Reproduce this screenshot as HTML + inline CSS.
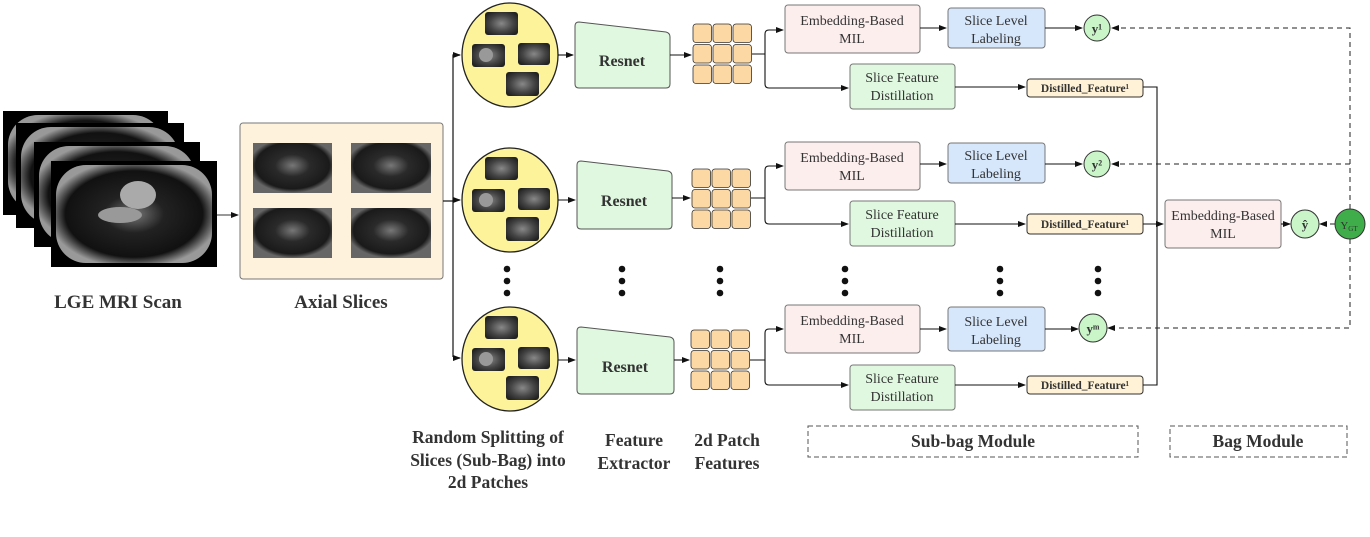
<!DOCTYPE html>
<html><head><meta charset="utf-8"><style>
body{margin:0;background:#fff;}
svg{display:block;}
text{font-family:"Liberation Serif",serif;fill:#333;}
.b{font-weight:bold;}
</style></head><body>
<svg width="1370" height="537" viewBox="0 0 1370 537" xmlns="http://www.w3.org/2000/svg">
<defs>
<marker id="a" markerWidth="8" markerHeight="8" refX="7" refY="4" orient="auto" markerUnits="userSpaceOnUse"><path d="M0,1 L8,4 L0,7 z" fill="#111"/></marker>
<radialGradient id="mri" cx="50%" cy="50%" r="55%"><stop offset="0" stop-color="#777"/><stop offset="0.35" stop-color="#222"/><stop offset="0.8" stop-color="#111"/><stop offset="1" stop-color="#999"/></radialGradient>
<radialGradient id="sl" cx="50%" cy="45%" r="55%"><stop offset="0" stop-color="#777"/><stop offset="0.4" stop-color="#2a2a2a"/><stop offset="0.85" stop-color="#1a1a1a"/><stop offset="1" stop-color="#666"/></radialGradient>
<radialGradient id="pt" cx="50%" cy="50%" r="60%"><stop offset="0" stop-color="#888"/><stop offset="0.6" stop-color="#444"/><stop offset="1" stop-color="#222"/></radialGradient>
<g id="circ">
<ellipse cx="0" cy="0" rx="48" ry="52" fill="#fdf39b" stroke="#222" stroke-width="1.3"/>
<rect x="-25" y="-43" width="33" height="23" rx="3" fill="url(#pt)"/>
<rect x="-38" y="-11" width="33" height="23" rx="3" fill="url(#pt)"/>
<rect x="8" y="-12" width="32" height="22" rx="3" fill="url(#pt)"/>
<rect x="-4" y="17" width="33" height="24" rx="3" fill="url(#pt)"/>
<circle cx="-24" cy="0" r="7" fill="#999"/>
</g>
<g id="grid" fill="#fcd9a4" stroke="#333" stroke-width="0.8">
<rect x="0" y="0" width="18.5" height="18.5" rx="3"/><rect x="20" y="0" width="18.5" height="18.5" rx="3"/><rect x="40" y="0" width="18.5" height="18.5" rx="3"/>
<rect x="0" y="20.5" width="18.5" height="18.5" rx="3"/><rect x="20" y="20.5" width="18.5" height="18.5" rx="3"/><rect x="40" y="20.5" width="18.5" height="18.5" rx="3"/>
<rect x="0" y="41" width="18.5" height="18.5" rx="3"/><rect x="20" y="41" width="18.5" height="18.5" rx="3"/><rect x="40" y="41" width="18.5" height="18.5" rx="3"/>
</g>
</defs>

<rect x="3" y="111" width="165" height="104" fill="#000"/><rect x="8" y="115" width="155" height="96" rx="30" fill="url(#mri)"/>
<rect x="16" y="123" width="168" height="105" fill="#000"/><rect x="21" y="127" width="158" height="97" rx="30" fill="url(#mri)"/>
<rect x="34" y="142" width="166" height="105" fill="#000"/><rect x="39" y="146" width="156" height="97" rx="30" fill="url(#mri)"/>
<rect x="51" y="161" width="166" height="106" fill="#000"/><rect x="56" y="165" width="156" height="98" rx="30" fill="url(#mri)"/>
<ellipse cx="138" cy="195" rx="18" ry="14" fill="#aaa"/><ellipse cx="120" cy="215" rx="22" ry="8" fill="#999"/>
<line x1="217" y1="215" x2="238" y2="215" stroke="#333" marker-end="url(#a)"/>

<rect x="240" y="123" width="203" height="156" rx="3" fill="#fff2dc" stroke="#777"/>
<rect x="253" y="143" width="79" height="50" fill="url(#sl)"/>
<rect x="351" y="143" width="80" height="50" fill="url(#sl)"/>
<rect x="253" y="208" width="79" height="50" fill="url(#sl)"/>
<rect x="351" y="208" width="80" height="50" fill="url(#sl)"/>
<text x="118" y="308" font-size="19" text-anchor="middle" class="b">LGE MRI Scan</text>
<text x="341" y="308" font-size="19" text-anchor="middle" class="b">Axial Slices</text>

<g fill="none" stroke="#111" stroke-width="1.2">
<line x1="443" y1="201" x2="453" y2="201"/>
<path d="M453,357 L453,55 L460,55" marker-end="url(#a)"/>
<line x1="453" y1="200" x2="460" y2="200" marker-end="url(#a)"/>
<line x1="453" y1="358" x2="460" y2="358" marker-end="url(#a)"/>
</g>

<g>
<use href="#circ" x="510" y="55"/>
<use href="#circ" x="510" y="200"/>
<use href="#circ" x="510" y="359"/>
</g>
<g fill="#e0f8e0" stroke="#555" stroke-width="1">
<path d="M575,26 Q575,22 579,22 L666,32 Q670,33 670,37 L670,84 Q670,88 666,88 L579,88 Q575,88 575,84 Z"/>
<path d="M577,165 Q577,161 581,161 L668,171 Q672,172 672,176 L672,225 Q672,229 668,229 L581,229 Q577,229 577,225 Z"/>
<path d="M577,331 Q577,327 581,327 L670,337 Q674,338 674,342 L674,390 Q674,394 670,394 L581,394 Q577,394 577,390 Z"/>
</g>
<text x="622" y="66" font-size="16" text-anchor="middle" class="b">Resnet</text>
<text x="624" y="206" font-size="16" text-anchor="middle" class="b">Resnet</text>
<text x="625" y="372" font-size="16" text-anchor="middle" class="b">Resnet</text>
<use href="#grid" x="693" y="24"/>
<use href="#grid" x="692" y="169"/>
<use href="#grid" x="691" y="330"/>

<g fill="none" stroke="#111" stroke-width="1.1">
<line x1="558" y1="55" x2="573" y2="55" marker-end="url(#a)"/>
<line x1="670" y1="55" x2="691" y2="55" marker-end="url(#a)"/>
<path d="M752,54 L765,54 M765,54 L765,34 Q765,30 769,30 L783,30" marker-end="url(#a)"/>
<path d="M765,54 L765,84 Q765,88 769,88 L848,88" marker-end="url(#a)"/>
<line x1="558" y1="200" x2="575" y2="200" marker-end="url(#a)"/>
<line x1="672" y1="198" x2="690" y2="198" marker-end="url(#a)"/>
<path d="M751,198 L765,198 L765,170 Q765,166 769,166 L783,166" marker-end="url(#a)"/>
<path d="M765,198 L765,220 Q765,224 769,224 L848,224" marker-end="url(#a)"/>
<line x1="558" y1="360" x2="575" y2="360" marker-end="url(#a)"/>
<line x1="674" y1="360" x2="689" y2="360" marker-end="url(#a)"/>
<path d="M750,360 L765,360 L765,333 Q765,329 769,329 L783,329" marker-end="url(#a)"/>
<path d="M765,360 L765,381 Q765,385 769,385 L848,385" marker-end="url(#a)"/>
</g>

<g stroke="#777" stroke-width="1">
<rect x="785" y="5" width="135" height="48" rx="3" fill="#fdeeee"/>
<rect x="785" y="142" width="135" height="48" rx="3" fill="#fdeeee"/>
<rect x="785" y="305" width="135" height="48" rx="3" fill="#fdeeee"/>
<rect x="948" y="8" width="97" height="40" rx="3" fill="#d6e6fb"/>
<rect x="948" y="143" width="97" height="40" rx="3" fill="#d6e6fb"/>
<rect x="948" y="307" width="97" height="44" rx="3" fill="#d6e6fb"/>
<rect x="850" y="64" width="105" height="45" rx="3" fill="#e0f8e0"/>
<rect x="850" y="201" width="105" height="45" rx="3" fill="#e0f8e0"/>
<rect x="850" y="365" width="105" height="45" rx="3" fill="#e0f8e0"/>
<rect x="1027" y="79" width="116" height="18" rx="3" fill="#fff2d6" stroke="#333"/>
<rect x="1027" y="214" width="116" height="20" rx="3" fill="#fff2d6" stroke="#333"/>
<rect x="1027" y="376" width="116" height="18" rx="3" fill="#fff2d6" stroke="#333"/>
<rect x="1165" y="200" width="116" height="48" rx="3" fill="#fdeeee"/>
</g>
<g font-size="14" text-anchor="middle">
<text x="852" y="25">Embedding-Based</text><text x="852" y="43">MIL</text>
<text x="852" y="162">Embedding-Based</text><text x="852" y="180">MIL</text>
<text x="852" y="325">Embedding-Based</text><text x="852" y="343">MIL</text>
<text x="996" y="25">Slice Level</text><text x="996" y="43">Labeling</text>
<text x="996" y="160">Slice Level</text><text x="996" y="178">Labeling</text>
<text x="996" y="326">Slice Level</text><text x="996" y="344">Labeling</text>
<text x="902" y="82">Slice Feature</text><text x="902" y="100">Distillation</text>
<text x="902" y="219">Slice Feature</text><text x="902" y="237">Distillation</text>
<text x="902" y="383">Slice Feature</text><text x="902" y="401">Distillation</text>
<text x="1223" y="220">Embedding-Based</text><text x="1223" y="238">MIL</text>
</g>
<g font-size="11.5" text-anchor="middle" class="b">
<text x="1085" y="92">Distilled_Feature¹</text>
<text x="1085" y="228">Distilled_Feature¹</text>
<text x="1085" y="389">Distilled_Feature¹</text>
</g>

<g fill="none" stroke="#111" stroke-width="1.1">
<line x1="920" y1="28" x2="946" y2="28" marker-end="url(#a)"/>
<line x1="920" y1="164" x2="946" y2="164" marker-end="url(#a)"/>
<line x1="920" y1="329" x2="946" y2="329" marker-end="url(#a)"/>
<line x1="1045" y1="28" x2="1082" y2="28" marker-end="url(#a)"/>
<line x1="1045" y1="164" x2="1082" y2="164" marker-end="url(#a)"/>
<line x1="1045" y1="329" x2="1078" y2="329" marker-end="url(#a)"/>
<line x1="955" y1="87" x2="1025" y2="87" marker-end="url(#a)"/>
<line x1="955" y1="224" x2="1025" y2="224" marker-end="url(#a)"/>
<line x1="955" y1="385" x2="1025" y2="385" marker-end="url(#a)"/>
<path d="M1143,87 L1157,87 L1157,385 L1143,385"/>
<line x1="1143" y1="224" x2="1163" y2="224" marker-end="url(#a)"/>
<line x1="1281" y1="224" x2="1290" y2="224" marker-end="url(#a)"/>
</g>
<g fill="none" stroke="#222" stroke-width="1" stroke-dasharray="5,4">
<path d="M1350,209 L1350,28 L1112,28" marker-end="url(#a)"/>
<path d="M1350,164 L1112,164" marker-end="url(#a)"/>
<path d="M1350,239 L1350,328 L1108,328" marker-end="url(#a)"/>
<line x1="1335" y1="224" x2="1320" y2="224" marker-end="url(#a)"/>
</g>

<g stroke="#333" stroke-width="1" fill="#c9f5c9">
<circle cx="1097" cy="28" r="13"/>
<circle cx="1097" cy="164" r="13"/>
<circle cx="1093" cy="328" r="14"/>
<circle cx="1305" cy="224" r="14"/>
<circle cx="1350" cy="224" r="15" fill="#3fae4a"/>
</g>
<g font-size="13" text-anchor="middle" class="b">
<text x="1097" y="33">y¹</text>
<text x="1097" y="169">y²</text>
<text x="1093" y="333">yᵐ</text>
<text x="1305" y="229">ŷ</text>
</g>
<text x="1349" y="229" font-size="11" text-anchor="middle">Y<tspan font-size="7" dy="2">GT</tspan></text>

<g fill="#111">
<circle cx="507" cy="269" r="3.3"/><circle cx="507" cy="281" r="3.3"/><circle cx="507" cy="293" r="3.3"/>
<circle cx="622" cy="269" r="3.3"/><circle cx="622" cy="281" r="3.3"/><circle cx="622" cy="293" r="3.3"/>
<circle cx="720" cy="269" r="3.3"/><circle cx="720" cy="281" r="3.3"/><circle cx="720" cy="293" r="3.3"/>
<circle cx="845" cy="269" r="3.3"/><circle cx="845" cy="281" r="3.3"/><circle cx="845" cy="293" r="3.3"/>
<circle cx="1000" cy="269" r="3.3"/><circle cx="1000" cy="281" r="3.3"/><circle cx="1000" cy="293" r="3.3"/>
<circle cx="1098" cy="269" r="3.3"/><circle cx="1098" cy="281" r="3.3"/><circle cx="1098" cy="293" r="3.3"/>
</g>

<g font-size="17.5" text-anchor="middle" class="b">
<text x="488" y="443">Random Splitting of</text>
<text x="488" y="466">Slices (Sub-Bag) into</text>
<text x="488" y="488">2d Patches</text>
<text x="634" y="446">Feature</text><text x="634" y="469">Extractor</text>
<text x="727" y="446">2d Patch</text><text x="727" y="469">Features</text>
<text x="973" y="447">Sub-bag Module</text>
<text x="1258" y="447">Bag Module</text>
</g>
<g fill="none" stroke="#555" stroke-dasharray="5,3">
<rect x="808" y="426" width="330" height="31"/>
<rect x="1170" y="426" width="177" height="31"/>
</g>
</svg>
</body></html>
